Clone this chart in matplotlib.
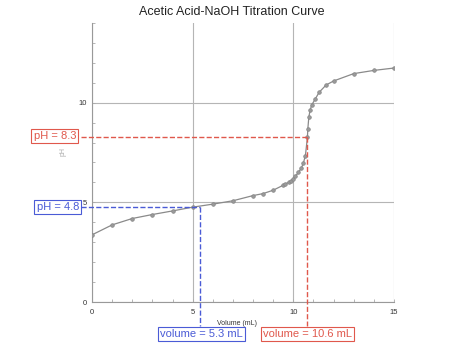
import matplotlib.pyplot as plt

plt.rcParams['font.family'] = ['Liberation Sans', 'DejaVu Sans']

# titration data
volume = [0, 1, 2, 3, 4, 5, 6, 7, 8, 8.5, 9.0, 9.5, 9.6, 9.8, 9.9, 10.0, 10.1,
          10.25, 10.4, 10.5, 10.6, 10.7, 10.72, 10.77, 10.84, 10.92, 11.08,
          11.28, 11.63, 12.0, 13.0, 14.0, 15.0]
ph = [3.37, 3.87, 4.19, 4.39, 4.57, 4.76, 4.91, 5.08, 5.34, 5.44, 5.61, 5.86,
      5.93, 6.01, 6.08, 6.18, 6.30, 6.50, 6.72, 6.97, 7.35, 8.26, 8.68, 9.28,
      9.65, 9.90, 10.17, 10.52, 10.89, 11.09, 11.46, 11.62, 11.74]

# half-equivalence and equivalence readings
half_vol, half_ph = 5.37, 4.76
eq_vol, eq_ph = 10.7, 8.27
half_vol_label = 'volume = 5.3 mL'
eq_vol_label = 'volume = 10.6 mL'
half_ph_label = 'pH = 4.8'
eq_ph_label = 'pH = 8.3'

red = '#e0584c'
blue = '#4a5bd6'

fig = plt.figure(figsize=(4.74, 3.58), dpi=100)
ax = fig.add_axes([0.1941, 0.1564, 0.6371, 0.7794])

ax.plot(volume, ph, '-o', color='#8a8a8a', lw=0.9, ms=2.6,
        markerfacecolor='#9a9a9a', markeredgecolor='#858585', mew=0.5, zorder=3)

ax.set_xlim(0, 15)
ax.set_ylim(0, 14)
ax.set_xticks([0, 5, 10, 15])
ax.set_xticks(range(16), minor=True)
ax.set_yticks([0, 5, 10])
ax.set_yticks(range(15), minor=True)
ax.grid(True, which='major', color='#b5b5b5', lw=0.8)
ax.tick_params(which='both', direction='in', length=2, width=0.6,
               colors='#aaaaaa', labelsize=5.5, labelcolor='#333333')
ax.tick_params(axis='x', pad=5)
ax.tick_params(axis='y', pad=3.5)
for s in ['top', 'right']:
    ax.spines[s].set_visible(False)
for s in ['left', 'bottom']:
    ax.spines[s].set_color('#999999')
    ax.spines[s].set_linewidth(0.8)

fig.text(232 / 474, 1 - 12 / 358, 'Acetic Acid-NaOH Titration Curve', fontsize=9,
         color='#222222', ha='center', va='center')
ax.set_xlabel('Volume (mL)', fontsize=5, color='#333333')
ax.xaxis.set_label_coords((237 - 92) / 302, -(320 - 302) / 279)
ax.set_ylabel('pH', fontsize=5, color='#aaaaaa')
ax.yaxis.set_label_coords(-(92 - 67) / 302, (302 - 152) / 279)

# dashed reading lines
ax.plot([-0.55, half_vol], [half_ph, half_ph], '--', color=blue, lw=1, clip_on=False, zorder=4)
ax.plot([half_vol, half_vol], [half_ph, -1.2], '--', color=blue, lw=1, clip_on=False, zorder=4)
ax.plot([-0.55, eq_vol], [eq_ph, eq_ph], '--', color=red, lw=1, clip_on=False, zorder=4)
ax.plot([eq_vol, eq_vol], [eq_ph, -1.2], '--', color=red, lw=1, clip_on=False, zorder=4)

box_b = dict(boxstyle='square,pad=0.2', fc='white', ec=blue, lw=0.8)
box_r = dict(boxstyle='square,pad=0.2', fc='white', ec=red, lw=0.8)
ax.text(-1.84, eq_ph + 0.05, eq_ph_label, color=red, fontsize=8, ha='center', va='center',
        bbox=box_r, clip_on=False)
ax.text(-1.7, half_ph, half_ph_label, color=blue, fontsize=8, ha='center', va='center',
        bbox=box_b, clip_on=False)
ax.text(5.45, -1.6, half_vol_label, color=blue, fontsize=8, ha='center', va='center',
        bbox=box_b, clip_on=False)
ax.text(10.7, -1.6, eq_vol_label, color=red, fontsize=8, ha='center', va='center',
        bbox=box_r, clip_on=False)

plt.savefig('out.png', dpi=100)
